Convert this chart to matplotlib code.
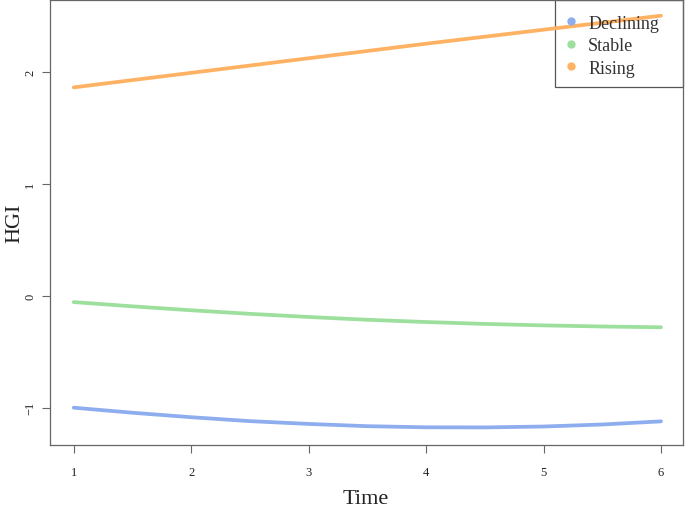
import numpy as np
import matplotlib.pyplot as plt
from matplotlib.lines import Line2D
from matplotlib.patches import Rectangle

plt.rcParams['font.family'] = ['Liberation Serif', 'DejaVu Serif']

# data
time = [1, 1.5, 2, 2.5, 3, 3.5, 4, 4.5, 5, 5.5, 6]
declining = [-1.0, -1.045, -1.085, -1.12, -1.145, -1.165, -1.175, -1.176, -1.168, -1.15, -1.122]
stable = [-0.057, -0.095, -0.13, -0.162, -0.19, -0.215, -0.235, -0.252, -0.265, -0.275, -0.282]
time_r = [1, 2, 3, 4, 5, 6]
rising = [1.86, 1.99, 2.12, 2.25, 2.375, 2.50]
groups = ['Declining', 'Stable', 'Rising']
colors = ['#8dadee', '#9ddf9d', '#ffb263']

fig = plt.figure(figsize=(6.85, 5.1), dpi=100)
ax = fig.add_axes([0.073, 0.1255, 0.924, 0.8725])

ax.plot(time, declining, color=colors[0], lw=2.7, solid_capstyle='round', solid_joinstyle='round')
ax.plot(time, stable, color=colors[1], lw=2.7, solid_capstyle='round', solid_joinstyle='round')
ax.plot(time_r, rising, color=colors[2], lw=2.7, solid_capstyle='round', solid_joinstyle='round')

ax.set_xlim(0.798, 6.187)
ax.set_ylim(-1.333, 2.64)
ax.set_xticks(time_r)
ax.set_yticks([-1, 0, 1, 2])
ax.tick_params(axis='both', labelsize=9, length=6, color='#666666', labelcolor='#222222')
ax.tick_params(axis='x', pad=9)
ax.tick_params(axis='y', pad=4)
for lab in ax.get_yticklabels():
    lab.set_rotation(90)
    lab.set_va('center')
for sp in ax.spines.values():
    sp.set_color('#666666')
    sp.set_linewidth(0.9)

# axis titles placed in figure coordinates so they fit the canvas
fig.text(366 / 685, 1 - 500 / 510, 'Time', fontsize=16, color='#222222', ha='center', va='center')
fig.text(15 / 685, 1 - 223 / 510, 'HGI', fontsize=16, color='#222222', ha='center', va='center', rotation=90)

# legend: R-style box without fill
handles = [Line2D([], [], marker='o', ls='none', color=c, markersize=5) for c in colors]
leg = ax.legend(handles, groups, loc='upper left', bbox_to_anchor=(0.809, 0.967), fontsize=13,
                frameon=False, borderaxespad=0, borderpad=0, handletextpad=0.45,
                labelspacing=0.3, handlelength=1.0)
for t in leg.get_texts():
    t.set_color('#333333')
ax.add_patch(Rectangle((0.798, 0.8045), 0.202, 0.1955, transform=ax.transAxes,
                       fill=False, edgecolor='#555555', lw=0.9, clip_on=False))

fig.savefig('out.png', dpi=100)
